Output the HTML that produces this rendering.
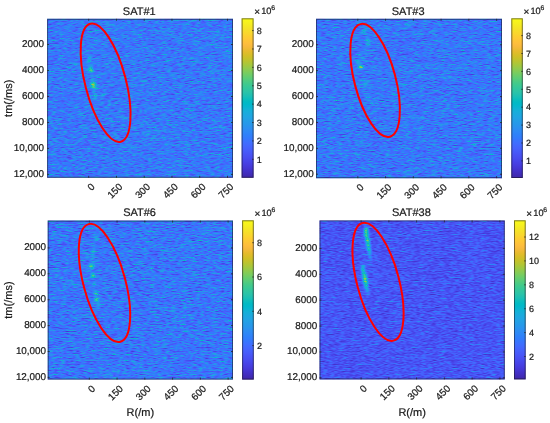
<!DOCTYPE html><html><head><meta charset="utf-8"><style>html,body{margin:0;padding:0;background:#fff;}svg{display:block;}text{font-family:'Liberation Sans', Arial, Helvetica, sans-serif;fill:#1a1a1a;stroke:#1a1a1a;stroke-width:0.22px;text-rendering:geometricPrecision;}</style></head><body>
<svg width="550" height="423" viewBox="0 0 550 423">
<defs>
<linearGradient id="par" x1="0" y1="1" x2="0" y2="0">
<stop offset="0" stop-color="rgb(62,38,168)"/>
<stop offset="0.016" stop-color="rgb(64,42,180)"/>
<stop offset="0.032" stop-color="rgb(66,46,192)"/>
<stop offset="0.048" stop-color="rgb(67,50,203)"/>
<stop offset="0.063" stop-color="rgb(69,55,213)"/>
<stop offset="0.079" stop-color="rgb(70,60,222)"/>
<stop offset="0.095" stop-color="rgb(71,65,229)"/>
<stop offset="0.111" stop-color="rgb(71,71,235)"/>
<stop offset="0.127" stop-color="rgb(72,77,240)"/>
<stop offset="0.143" stop-color="rgb(72,82,244)"/>
<stop offset="0.159" stop-color="rgb(71,88,248)"/>
<stop offset="0.175" stop-color="rgb(70,94,251)"/>
<stop offset="0.19" stop-color="rgb(69,99,253)"/>
<stop offset="0.206" stop-color="rgb(66,105,254)"/>
<stop offset="0.222" stop-color="rgb(62,111,255)"/>
<stop offset="0.238" stop-color="rgb(56,117,254)"/>
<stop offset="0.254" stop-color="rgb(50,124,252)"/>
<stop offset="0.27" stop-color="rgb(47,129,250)"/>
<stop offset="0.286" stop-color="rgb(46,135,247)"/>
<stop offset="0.302" stop-color="rgb(45,140,243)"/>
<stop offset="0.317" stop-color="rgb(43,145,239)"/>
<stop offset="0.333" stop-color="rgb(39,151,235)"/>
<stop offset="0.349" stop-color="rgb(37,155,232)"/>
<stop offset="0.365" stop-color="rgb(35,160,229)"/>
<stop offset="0.381" stop-color="rgb(32,165,227)"/>
<stop offset="0.397" stop-color="rgb(28,169,223)"/>
<stop offset="0.413" stop-color="rgb(24,173,219)"/>
<stop offset="0.429" stop-color="rgb(18,177,214)"/>
<stop offset="0.444" stop-color="rgb(8,181,208)"/>
<stop offset="0.46" stop-color="rgb(1,184,202)"/>
<stop offset="0.476" stop-color="rgb(2,186,195)"/>
<stop offset="0.492" stop-color="rgb(11,189,189)"/>
<stop offset="0.508" stop-color="rgb(25,191,182)"/>
<stop offset="0.524" stop-color="rgb(36,193,174)"/>
<stop offset="0.54" stop-color="rgb(44,196,167)"/>
<stop offset="0.556" stop-color="rgb(49,198,159)"/>
<stop offset="0.571" stop-color="rgb(55,200,151)"/>
<stop offset="0.587" stop-color="rgb(63,202,142)"/>
<stop offset="0.603" stop-color="rgb(74,203,132)"/>
<stop offset="0.619" stop-color="rgb(87,204,122)"/>
<stop offset="0.635" stop-color="rgb(100,205,111)"/>
<stop offset="0.651" stop-color="rgb(114,205,100)"/>
<stop offset="0.667" stop-color="rgb(129,204,89)"/>
<stop offset="0.683" stop-color="rgb(143,203,78)"/>
<stop offset="0.698" stop-color="rgb(157,201,67)"/>
<stop offset="0.714" stop-color="rgb(171,199,57)"/>
<stop offset="0.73" stop-color="rgb(185,196,49)"/>
<stop offset="0.746" stop-color="rgb(197,194,42)"/>
<stop offset="0.762" stop-color="rgb(209,191,39)"/>
<stop offset="0.778" stop-color="rgb(220,189,41)"/>
<stop offset="0.794" stop-color="rgb(230,187,45)"/>
<stop offset="0.81" stop-color="rgb(240,186,54)"/>
<stop offset="0.825" stop-color="rgb(248,186,61)"/>
<stop offset="0.841" stop-color="rgb(254,190,60)"/>
<stop offset="0.857" stop-color="rgb(254,195,56)"/>
<stop offset="0.873" stop-color="rgb(254,201,52)"/>
<stop offset="0.889" stop-color="rgb(252,207,48)"/>
<stop offset="0.905" stop-color="rgb(250,214,45)"/>
<stop offset="0.921" stop-color="rgb(247,220,42)"/>
<stop offset="0.937" stop-color="rgb(245,227,39)"/>
<stop offset="0.952" stop-color="rgb(245,233,36)"/>
<stop offset="0.968" stop-color="rgb(246,239,32)"/>
<stop offset="0.984" stop-color="rgb(247,245,27)"/>
<stop offset="1" stop-color="rgb(249,251,21)"/>
</linearGradient>
<filter id="f0" x="0" y="0" width="1" height="1" color-interpolation-filters="sRGB">
<feTurbulence type="fractalNoise" baseFrequency="0.45 1.3" numOctaves="2" seed="3" result="tA"/><feGaussianBlur in="tA" stdDeviation="1 0" result="t0"/>
<feColorMatrix in="t0" type="matrix" values="1 0 0 0 0 1 0 0 0 0 1 0 0 0 0 0 0 0 0 1" result="t1"/>
<feComponentTransfer in="t1" result="n"><feFuncR type="table" tableValues="0.0215 0.0223 0.0236 0.0252 0.0273 0.0297 0.0325 0.0357 0.0394 0.0434 0.0478 0.0526 0.0579 0.0635 0.0695 0.0759 0.0827 0.0899 0.0976 0.1056 0.1140 0.1228 0.1320 0.1416 0.1516 0.1620 0.1728 0.1840 0.1956 0.2076 0.2200 0.2328 0.2460 0.2596 0.2736 0.2880 0.3028 0.3179 0.3335 0.3495 0.3659 0.3827 0.3999 0.4174 0.4354 0.4538 0.4726 0.4917 0.5113 0.5313 0.5516 0.5724 0.5936 0.6151 0.6371 0.6595 0.6822 0.7054 0.7289 0.7529 0.7772 0.8020 0.8272 0.8527 0.8787"/><feFuncG type="table" tableValues="0.0215 0.0223 0.0236 0.0252 0.0273 0.0297 0.0325 0.0357 0.0394 0.0434 0.0478 0.0526 0.0579 0.0635 0.0695 0.0759 0.0827 0.0899 0.0976 0.1056 0.1140 0.1228 0.1320 0.1416 0.1516 0.1620 0.1728 0.1840 0.1956 0.2076 0.2200 0.2328 0.2460 0.2596 0.2736 0.2880 0.3028 0.3179 0.3335 0.3495 0.3659 0.3827 0.3999 0.4174 0.4354 0.4538 0.4726 0.4917 0.5113 0.5313 0.5516 0.5724 0.5936 0.6151 0.6371 0.6595 0.6822 0.7054 0.7289 0.7529 0.7772 0.8020 0.8272 0.8527 0.8787"/><feFuncB type="table" tableValues="0.0215 0.0223 0.0236 0.0252 0.0273 0.0297 0.0325 0.0357 0.0394 0.0434 0.0478 0.0526 0.0579 0.0635 0.0695 0.0759 0.0827 0.0899 0.0976 0.1056 0.1140 0.1228 0.1320 0.1416 0.1516 0.1620 0.1728 0.1840 0.1956 0.2076 0.2200 0.2328 0.2460 0.2596 0.2736 0.2880 0.3028 0.3179 0.3335 0.3495 0.3659 0.3827 0.3999 0.4174 0.4354 0.4538 0.4726 0.4917 0.5113 0.5313 0.5516 0.5724 0.5936 0.6151 0.6371 0.6595 0.6822 0.7054 0.7289 0.7529 0.7772 0.8020 0.8272 0.8527 0.8787"/></feComponentTransfer>
<feGaussianBlur in="SourceGraphic" stdDeviation="1.1 1.1" result="s"/>
<feComposite in="n" in2="s" operator="arithmetic" k1="0" k2="1" k3="1" k4="0" result="v"/>
<feComponentTransfer in="v"><feFuncR type="table" tableValues="0.2422 0.2504 0.2578 0.2647 0.2706 0.2751 0.2783 0.2803 0.2813 0.2810 0.2795 0.2760 0.2699 0.2602 0.2440 0.2206 0.1963 0.1834 0.1786 0.1764 0.1687 0.1540 0.1460 0.1380 0.1248 0.1113 0.0952 0.0689 0.0297 0.0036 0.0067 0.0433 0.0964 0.1408 0.1717 0.1938 0.2161 0.2470 0.2906 0.3406 0.3909 0.4456 0.5044 0.5616 0.6174 0.6720 0.7242 0.7738 0.8203 0.8634 0.9035 0.9393 0.9728 0.9956 0.9970 0.9952 0.9892 0.9786 0.9676 0.9610 0.9597 0.9628 0.9691 0.9769"/><feFuncG type="table" tableValues="0.1504 0.1650 0.1818 0.1978 0.2147 0.2342 0.2559 0.2782 0.3006 0.3228 0.3447 0.3667 0.3892 0.4123 0.4358 0.4603 0.4847 0.5074 0.5289 0.5499 0.5703 0.5902 0.6091 0.6276 0.6459 0.6635 0.6798 0.6948 0.7082 0.7203 0.7312 0.7411 0.7500 0.7584 0.7670 0.7758 0.7843 0.7918 0.7973 0.8008 0.8029 0.8024 0.7993 0.7942 0.7876 0.7793 0.7698 0.7598 0.7498 0.7406 0.7330 0.7288 0.7298 0.7434 0.7659 0.7893 0.8136 0.8386 0.8639 0.8890 0.9135 0.9373 0.9606 0.9839"/><feFuncB type="table" tableValues="0.6603 0.7076 0.7511 0.7952 0.8364 0.8710 0.8991 0.9221 0.9414 0.9579 0.9717 0.9829 0.9906 0.9952 0.9988 0.9973 0.9892 0.9798 0.9682 0.9520 0.9359 0.9218 0.9079 0.8973 0.8883 0.8763 0.8598 0.8394 0.8163 0.7917 0.7660 0.7394 0.7120 0.6842 0.6554 0.6251 0.5923 0.5567 0.5188 0.4789 0.4354 0.3909 0.3480 0.3045 0.2612 0.2227 0.1910 0.1646 0.1535 0.1596 0.1774 0.2100 0.2394 0.2371 0.2199 0.2028 0.1885 0.1766 0.1643 0.1537 0.1423 0.1265 0.1064 0.0805"/></feComponentTransfer>
</filter>
<filter id="f1" x="0" y="0" width="1" height="1" color-interpolation-filters="sRGB">
<feTurbulence type="fractalNoise" baseFrequency="0.45 1.3" numOctaves="2" seed="7" result="tA"/><feGaussianBlur in="tA" stdDeviation="1 0" result="t0"/>
<feColorMatrix in="t0" type="matrix" values="1 0 0 0 0 1 0 0 0 0 1 0 0 0 0 0 0 0 0 1" result="t1"/>
<feComponentTransfer in="t1" result="n"><feFuncR type="table" tableValues="0.0165 0.0173 0.0186 0.0202 0.0223 0.0247 0.0275 0.0307 0.0344 0.0384 0.0428 0.0476 0.0529 0.0585 0.0645 0.0709 0.0777 0.0849 0.0926 0.1006 0.1090 0.1178 0.1270 0.1366 0.1466 0.1570 0.1678 0.1790 0.1906 0.2026 0.2150 0.2278 0.2410 0.2546 0.2686 0.2830 0.2978 0.3129 0.3285 0.3445 0.3609 0.3777 0.3949 0.4124 0.4304 0.4488 0.4676 0.4867 0.5063 0.5263 0.5466 0.5674 0.5886 0.6101 0.6321 0.6545 0.6772 0.7004 0.7239 0.7479 0.7722 0.7970 0.8222 0.8477 0.8737"/><feFuncG type="table" tableValues="0.0165 0.0173 0.0186 0.0202 0.0223 0.0247 0.0275 0.0307 0.0344 0.0384 0.0428 0.0476 0.0529 0.0585 0.0645 0.0709 0.0777 0.0849 0.0926 0.1006 0.1090 0.1178 0.1270 0.1366 0.1466 0.1570 0.1678 0.1790 0.1906 0.2026 0.2150 0.2278 0.2410 0.2546 0.2686 0.2830 0.2978 0.3129 0.3285 0.3445 0.3609 0.3777 0.3949 0.4124 0.4304 0.4488 0.4676 0.4867 0.5063 0.5263 0.5466 0.5674 0.5886 0.6101 0.6321 0.6545 0.6772 0.7004 0.7239 0.7479 0.7722 0.7970 0.8222 0.8477 0.8737"/><feFuncB type="table" tableValues="0.0165 0.0173 0.0186 0.0202 0.0223 0.0247 0.0275 0.0307 0.0344 0.0384 0.0428 0.0476 0.0529 0.0585 0.0645 0.0709 0.0777 0.0849 0.0926 0.1006 0.1090 0.1178 0.1270 0.1366 0.1466 0.1570 0.1678 0.1790 0.1906 0.2026 0.2150 0.2278 0.2410 0.2546 0.2686 0.2830 0.2978 0.3129 0.3285 0.3445 0.3609 0.3777 0.3949 0.4124 0.4304 0.4488 0.4676 0.4867 0.5063 0.5263 0.5466 0.5674 0.5886 0.6101 0.6321 0.6545 0.6772 0.7004 0.7239 0.7479 0.7722 0.7970 0.8222 0.8477 0.8737"/></feComponentTransfer>
<feGaussianBlur in="SourceGraphic" stdDeviation="1.1 1.1" result="s"/>
<feComposite in="n" in2="s" operator="arithmetic" k1="0" k2="1" k3="1" k4="0" result="v"/>
<feComponentTransfer in="v"><feFuncR type="table" tableValues="0.2422 0.2504 0.2578 0.2647 0.2706 0.2751 0.2783 0.2803 0.2813 0.2810 0.2795 0.2760 0.2699 0.2602 0.2440 0.2206 0.1963 0.1834 0.1786 0.1764 0.1687 0.1540 0.1460 0.1380 0.1248 0.1113 0.0952 0.0689 0.0297 0.0036 0.0067 0.0433 0.0964 0.1408 0.1717 0.1938 0.2161 0.2470 0.2906 0.3406 0.3909 0.4456 0.5044 0.5616 0.6174 0.6720 0.7242 0.7738 0.8203 0.8634 0.9035 0.9393 0.9728 0.9956 0.9970 0.9952 0.9892 0.9786 0.9676 0.9610 0.9597 0.9628 0.9691 0.9769"/><feFuncG type="table" tableValues="0.1504 0.1650 0.1818 0.1978 0.2147 0.2342 0.2559 0.2782 0.3006 0.3228 0.3447 0.3667 0.3892 0.4123 0.4358 0.4603 0.4847 0.5074 0.5289 0.5499 0.5703 0.5902 0.6091 0.6276 0.6459 0.6635 0.6798 0.6948 0.7082 0.7203 0.7312 0.7411 0.7500 0.7584 0.7670 0.7758 0.7843 0.7918 0.7973 0.8008 0.8029 0.8024 0.7993 0.7942 0.7876 0.7793 0.7698 0.7598 0.7498 0.7406 0.7330 0.7288 0.7298 0.7434 0.7659 0.7893 0.8136 0.8386 0.8639 0.8890 0.9135 0.9373 0.9606 0.9839"/><feFuncB type="table" tableValues="0.6603 0.7076 0.7511 0.7952 0.8364 0.8710 0.8991 0.9221 0.9414 0.9579 0.9717 0.9829 0.9906 0.9952 0.9988 0.9973 0.9892 0.9798 0.9682 0.9520 0.9359 0.9218 0.9079 0.8973 0.8883 0.8763 0.8598 0.8394 0.8163 0.7917 0.7660 0.7394 0.7120 0.6842 0.6554 0.6251 0.5923 0.5567 0.5188 0.4789 0.4354 0.3909 0.3480 0.3045 0.2612 0.2227 0.1910 0.1646 0.1535 0.1596 0.1774 0.2100 0.2394 0.2371 0.2199 0.2028 0.1885 0.1766 0.1643 0.1537 0.1423 0.1265 0.1064 0.0805"/></feComponentTransfer>
</filter>
<filter id="f2" x="0" y="0" width="1" height="1" color-interpolation-filters="sRGB">
<feTurbulence type="fractalNoise" baseFrequency="0.45 1.3" numOctaves="2" seed="11" result="tA"/><feGaussianBlur in="tA" stdDeviation="1 0" result="t0"/>
<feColorMatrix in="t0" type="matrix" values="1 0 0 0 0 1 0 0 0 0 1 0 0 0 0 0 0 0 0 1" result="t1"/>
<feComponentTransfer in="t1" result="n"><feFuncR type="table" tableValues="0.0165 0.0173 0.0186 0.0202 0.0223 0.0247 0.0275 0.0307 0.0344 0.0384 0.0428 0.0476 0.0529 0.0585 0.0645 0.0709 0.0777 0.0849 0.0926 0.1006 0.1090 0.1178 0.1270 0.1366 0.1466 0.1570 0.1678 0.1790 0.1906 0.2026 0.2150 0.2278 0.2410 0.2546 0.2686 0.2830 0.2978 0.3129 0.3285 0.3445 0.3609 0.3777 0.3949 0.4124 0.4304 0.4488 0.4676 0.4867 0.5063 0.5263 0.5466 0.5674 0.5886 0.6101 0.6321 0.6545 0.6772 0.7004 0.7239 0.7479 0.7722 0.7970 0.8222 0.8477 0.8737"/><feFuncG type="table" tableValues="0.0165 0.0173 0.0186 0.0202 0.0223 0.0247 0.0275 0.0307 0.0344 0.0384 0.0428 0.0476 0.0529 0.0585 0.0645 0.0709 0.0777 0.0849 0.0926 0.1006 0.1090 0.1178 0.1270 0.1366 0.1466 0.1570 0.1678 0.1790 0.1906 0.2026 0.2150 0.2278 0.2410 0.2546 0.2686 0.2830 0.2978 0.3129 0.3285 0.3445 0.3609 0.3777 0.3949 0.4124 0.4304 0.4488 0.4676 0.4867 0.5063 0.5263 0.5466 0.5674 0.5886 0.6101 0.6321 0.6545 0.6772 0.7004 0.7239 0.7479 0.7722 0.7970 0.8222 0.8477 0.8737"/><feFuncB type="table" tableValues="0.0165 0.0173 0.0186 0.0202 0.0223 0.0247 0.0275 0.0307 0.0344 0.0384 0.0428 0.0476 0.0529 0.0585 0.0645 0.0709 0.0777 0.0849 0.0926 0.1006 0.1090 0.1178 0.1270 0.1366 0.1466 0.1570 0.1678 0.1790 0.1906 0.2026 0.2150 0.2278 0.2410 0.2546 0.2686 0.2830 0.2978 0.3129 0.3285 0.3445 0.3609 0.3777 0.3949 0.4124 0.4304 0.4488 0.4676 0.4867 0.5063 0.5263 0.5466 0.5674 0.5886 0.6101 0.6321 0.6545 0.6772 0.7004 0.7239 0.7479 0.7722 0.7970 0.8222 0.8477 0.8737"/></feComponentTransfer>
<feGaussianBlur in="SourceGraphic" stdDeviation="1.1 1.1" result="s"/>
<feComposite in="n" in2="s" operator="arithmetic" k1="0" k2="1" k3="1" k4="0" result="v"/>
<feComponentTransfer in="v"><feFuncR type="table" tableValues="0.2422 0.2504 0.2578 0.2647 0.2706 0.2751 0.2783 0.2803 0.2813 0.2810 0.2795 0.2760 0.2699 0.2602 0.2440 0.2206 0.1963 0.1834 0.1786 0.1764 0.1687 0.1540 0.1460 0.1380 0.1248 0.1113 0.0952 0.0689 0.0297 0.0036 0.0067 0.0433 0.0964 0.1408 0.1717 0.1938 0.2161 0.2470 0.2906 0.3406 0.3909 0.4456 0.5044 0.5616 0.6174 0.6720 0.7242 0.7738 0.8203 0.8634 0.9035 0.9393 0.9728 0.9956 0.9970 0.9952 0.9892 0.9786 0.9676 0.9610 0.9597 0.9628 0.9691 0.9769"/><feFuncG type="table" tableValues="0.1504 0.1650 0.1818 0.1978 0.2147 0.2342 0.2559 0.2782 0.3006 0.3228 0.3447 0.3667 0.3892 0.4123 0.4358 0.4603 0.4847 0.5074 0.5289 0.5499 0.5703 0.5902 0.6091 0.6276 0.6459 0.6635 0.6798 0.6948 0.7082 0.7203 0.7312 0.7411 0.7500 0.7584 0.7670 0.7758 0.7843 0.7918 0.7973 0.8008 0.8029 0.8024 0.7993 0.7942 0.7876 0.7793 0.7698 0.7598 0.7498 0.7406 0.7330 0.7288 0.7298 0.7434 0.7659 0.7893 0.8136 0.8386 0.8639 0.8890 0.9135 0.9373 0.9606 0.9839"/><feFuncB type="table" tableValues="0.6603 0.7076 0.7511 0.7952 0.8364 0.8710 0.8991 0.9221 0.9414 0.9579 0.9717 0.9829 0.9906 0.9952 0.9988 0.9973 0.9892 0.9798 0.9682 0.9520 0.9359 0.9218 0.9079 0.8973 0.8883 0.8763 0.8598 0.8394 0.8163 0.7917 0.7660 0.7394 0.7120 0.6842 0.6554 0.6251 0.5923 0.5567 0.5188 0.4789 0.4354 0.3909 0.3480 0.3045 0.2612 0.2227 0.1910 0.1646 0.1535 0.1596 0.1774 0.2100 0.2394 0.2371 0.2199 0.2028 0.1885 0.1766 0.1643 0.1537 0.1423 0.1265 0.1064 0.0805"/></feComponentTransfer>
</filter>
<filter id="f3" x="0" y="0" width="1" height="1" color-interpolation-filters="sRGB">
<feTurbulence type="fractalNoise" baseFrequency="0.45 1.3" numOctaves="2" seed="5" result="tA"/><feGaussianBlur in="tA" stdDeviation="1 0" result="t0"/>
<feColorMatrix in="t0" type="matrix" values="1 0 0 0 0 1 0 0 0 0 1 0 0 0 0 0 0 0 0 1" result="t1"/>
<feComponentTransfer in="t1" result="n"><feFuncR type="table" tableValues="0.0000 0.0000 0.0000 0.0000 0.0011 0.0028 0.0048 0.0070 0.0096 0.0124 0.0155 0.0188 0.0225 0.0264 0.0307 0.0351 0.0399 0.0450 0.0503 0.0559 0.0618 0.0680 0.0744 0.0811 0.0881 0.0954 0.1030 0.1108 0.1189 0.1273 0.1360 0.1450 0.1542 0.1637 0.1735 0.1836 0.1939 0.2046 0.2155 0.2267 0.2381 0.2499 0.2619 0.2742 0.2868 0.2997 0.3128 0.3262 0.3399 0.3539 0.3682 0.3827 0.3975 0.4126 0.4280 0.4436 0.4596 0.4758 0.4923 0.5090 0.5261 0.5434 0.5610 0.5789 0.5971"/><feFuncG type="table" tableValues="0.0000 0.0000 0.0000 0.0000 0.0011 0.0028 0.0048 0.0070 0.0096 0.0124 0.0155 0.0188 0.0225 0.0264 0.0307 0.0351 0.0399 0.0450 0.0503 0.0559 0.0618 0.0680 0.0744 0.0811 0.0881 0.0954 0.1030 0.1108 0.1189 0.1273 0.1360 0.1450 0.1542 0.1637 0.1735 0.1836 0.1939 0.2046 0.2155 0.2267 0.2381 0.2499 0.2619 0.2742 0.2868 0.2997 0.3128 0.3262 0.3399 0.3539 0.3682 0.3827 0.3975 0.4126 0.4280 0.4436 0.4596 0.4758 0.4923 0.5090 0.5261 0.5434 0.5610 0.5789 0.5971"/><feFuncB type="table" tableValues="0.0000 0.0000 0.0000 0.0000 0.0011 0.0028 0.0048 0.0070 0.0096 0.0124 0.0155 0.0188 0.0225 0.0264 0.0307 0.0351 0.0399 0.0450 0.0503 0.0559 0.0618 0.0680 0.0744 0.0811 0.0881 0.0954 0.1030 0.1108 0.1189 0.1273 0.1360 0.1450 0.1542 0.1637 0.1735 0.1836 0.1939 0.2046 0.2155 0.2267 0.2381 0.2499 0.2619 0.2742 0.2868 0.2997 0.3128 0.3262 0.3399 0.3539 0.3682 0.3827 0.3975 0.4126 0.4280 0.4436 0.4596 0.4758 0.4923 0.5090 0.5261 0.5434 0.5610 0.5789 0.5971"/></feComponentTransfer>
<feGaussianBlur in="SourceGraphic" stdDeviation="1.1 2" result="s"/>
<feComposite in="n" in2="s" operator="arithmetic" k1="0" k2="1" k3="1" k4="0" result="v"/>
<feComponentTransfer in="v"><feFuncR type="table" tableValues="0.2422 0.2504 0.2578 0.2647 0.2706 0.2751 0.2783 0.2803 0.2813 0.2810 0.2795 0.2760 0.2699 0.2602 0.2440 0.2206 0.1963 0.1834 0.1786 0.1764 0.1687 0.1540 0.1460 0.1380 0.1248 0.1113 0.0952 0.0689 0.0297 0.0036 0.0067 0.0433 0.0964 0.1408 0.1717 0.1938 0.2161 0.2470 0.2906 0.3406 0.3909 0.4456 0.5044 0.5616 0.6174 0.6720 0.7242 0.7738 0.8203 0.8634 0.9035 0.9393 0.9728 0.9956 0.9970 0.9952 0.9892 0.9786 0.9676 0.9610 0.9597 0.9628 0.9691 0.9769"/><feFuncG type="table" tableValues="0.1504 0.1650 0.1818 0.1978 0.2147 0.2342 0.2559 0.2782 0.3006 0.3228 0.3447 0.3667 0.3892 0.4123 0.4358 0.4603 0.4847 0.5074 0.5289 0.5499 0.5703 0.5902 0.6091 0.6276 0.6459 0.6635 0.6798 0.6948 0.7082 0.7203 0.7312 0.7411 0.7500 0.7584 0.7670 0.7758 0.7843 0.7918 0.7973 0.8008 0.8029 0.8024 0.7993 0.7942 0.7876 0.7793 0.7698 0.7598 0.7498 0.7406 0.7330 0.7288 0.7298 0.7434 0.7659 0.7893 0.8136 0.8386 0.8639 0.8890 0.9135 0.9373 0.9606 0.9839"/><feFuncB type="table" tableValues="0.6603 0.7076 0.7511 0.7952 0.8364 0.8710 0.8991 0.9221 0.9414 0.9579 0.9717 0.9829 0.9906 0.9952 0.9988 0.9973 0.9892 0.9798 0.9682 0.9520 0.9359 0.9218 0.9079 0.8973 0.8883 0.8763 0.8598 0.8394 0.8163 0.7917 0.7660 0.7394 0.7120 0.6842 0.6554 0.6251 0.5923 0.5567 0.5188 0.4789 0.4354 0.3909 0.3480 0.3045 0.2612 0.2227 0.1910 0.1646 0.1535 0.1596 0.1774 0.2100 0.2394 0.2371 0.2199 0.2028 0.1885 0.1766 0.1643 0.1537 0.1423 0.1265 0.1064 0.0805"/></feComponentTransfer>
</filter>
</defs>
<clipPath id="c0"><rect x="47.1" y="18.8" width="185.9" height="159"/></clipPath>
<g clip-path="url(#c0)"><g filter="url(#f0)"><rect x="46" y="17" width="188.9" height="162" fill="#000"/>
<ellipse cx="89.5" cy="58" rx="1.2" ry="4" fill="rgb(24,24,24)"/>
<ellipse cx="91" cy="68" rx="1.2" ry="4" fill="rgb(24,24,24)"/>
<ellipse cx="92.5" cy="78" rx="1.2" ry="4" fill="rgb(24,24,24)"/>
<ellipse cx="94" cy="88" rx="1.2" ry="4" fill="rgb(24,24,24)"/>
<ellipse cx="95.5" cy="98" rx="1.2" ry="4" fill="rgb(21,21,21)"/>
<ellipse cx="88.9" cy="61.2" rx="2" ry="1.5" fill="rgb(71,71,71)"/>
<ellipse cx="90.6" cy="70.1" rx="2.8" ry="2.2" fill="rgb(87,87,87)"/>
<ellipse cx="92.4" cy="81.9" rx="1.8" ry="1.4" fill="rgb(57,57,57)"/>
<ellipse cx="93.6" cy="85.4" rx="2.8" ry="2.8" fill="rgb(87,87,87)"/>
<ellipse cx="95.3" cy="96.6" rx="2" ry="1.5" fill="rgb(61,61,61)"/>
<ellipse cx="91.5" cy="76" rx="1.3" ry="1.1" fill="rgb(43,43,43)"/>
</g></g>
<ellipse cx="105.6" cy="82.7" rx="20.4" ry="60.9" transform="rotate(-14.5 105.6 82.7)" fill="none" stroke="#ff0000" stroke-width="2"/>
<rect x="47.6" y="19.3" width="184.9" height="158" fill="none" stroke="rgba(20,20,30,0.55)" stroke-width="1"/>
<path d="M88.7 177.8v-2M88.7 18.8v2" stroke="#262626" stroke-width="0.8"/>
<text x="0" y="0" font-size="9.9" text-anchor="end" dominant-baseline="text-before-edge" transform="translate(89.7 181.8) rotate(-45)">0</text>
<path d="M116.46 177.8v-2M116.46 18.8v2" stroke="#262626" stroke-width="0.8"/>
<text x="0" y="0" font-size="9.9" text-anchor="end" dominant-baseline="text-before-edge" transform="translate(117.46 181.8) rotate(-45)">150</text>
<path d="M144.22 177.8v-2M144.22 18.8v2" stroke="#262626" stroke-width="0.8"/>
<text x="0" y="0" font-size="9.9" text-anchor="end" dominant-baseline="text-before-edge" transform="translate(145.22 181.8) rotate(-45)">300</text>
<path d="M171.98 177.8v-2M171.98 18.8v2" stroke="#262626" stroke-width="0.8"/>
<text x="0" y="0" font-size="9.9" text-anchor="end" dominant-baseline="text-before-edge" transform="translate(172.98 181.8) rotate(-45)">450</text>
<path d="M199.74 177.8v-2M199.74 18.8v2" stroke="#262626" stroke-width="0.8"/>
<text x="0" y="0" font-size="9.9" text-anchor="end" dominant-baseline="text-before-edge" transform="translate(200.74 181.8) rotate(-45)">600</text>
<path d="M227.5 177.8v-2M227.5 18.8v2" stroke="#262626" stroke-width="0.8"/>
<text x="0" y="0" font-size="9.9" text-anchor="end" dominant-baseline="text-before-edge" transform="translate(228.5 181.8) rotate(-45)">750</text>
<path d="M47.1 44.5h2M233 44.5h-2" stroke="#262626" stroke-width="0.8"/>
<text x="43.9" y="47.05" font-size="9.9" text-anchor="end">2000</text>
<path d="M47.1 70.48h2M233 70.48h-2" stroke="#262626" stroke-width="0.8"/>
<text x="43.9" y="73.03" font-size="9.9" text-anchor="end">4000</text>
<path d="M47.1 96.46h2M233 96.46h-2" stroke="#262626" stroke-width="0.8"/>
<text x="43.9" y="99.01" font-size="9.9" text-anchor="end">6000</text>
<path d="M47.1 122.44h2M233 122.44h-2" stroke="#262626" stroke-width="0.8"/>
<text x="43.9" y="124.99" font-size="9.9" text-anchor="end">8000</text>
<path d="M47.1 148.42h2M233 148.42h-2" stroke="#262626" stroke-width="0.8"/>
<text x="43.9" y="150.97" font-size="9.9" text-anchor="end">10,000</text>
<path d="M47.1 174.4h2M233 174.4h-2" stroke="#262626" stroke-width="0.8"/>
<text x="43.9" y="176.95" font-size="9.9" text-anchor="end">12,000</text>
<text x="139.25" y="14.5" font-size="11" text-anchor="middle">SAT#1</text>
<text x="0" y="0" font-size="11" text-anchor="middle" transform="translate(12.3 98.3) rotate(-90)">tm(/ms)</text>
<rect x="241.6" y="18.3" width="12" height="159.5" fill="url(#par)"/>
<rect x="242.1" y="18.8" width="11" height="158.5" fill="none" stroke="rgba(20,20,30,0.55)" stroke-width="1"/>
<path d="M253.6 159.31h-1.5" stroke="#262626" stroke-width="0.8"/>
<text x="256.8" y="162.51" font-size="9">1</text>
<path d="M253.6 140.92h-1.5" stroke="#262626" stroke-width="0.8"/>
<text x="256.8" y="144.12" font-size="9">2</text>
<path d="M253.6 122.53h-1.5" stroke="#262626" stroke-width="0.8"/>
<text x="256.8" y="125.73" font-size="9">3</text>
<path d="M253.6 104.14h-1.5" stroke="#262626" stroke-width="0.8"/>
<text x="256.8" y="107.34" font-size="9">4</text>
<path d="M253.6 85.75h-1.5" stroke="#262626" stroke-width="0.8"/>
<text x="256.8" y="88.95" font-size="9">5</text>
<path d="M253.6 67.36h-1.5" stroke="#262626" stroke-width="0.8"/>
<text x="256.8" y="70.56" font-size="9">6</text>
<path d="M253.6 48.97h-1.5" stroke="#262626" stroke-width="0.8"/>
<text x="256.8" y="52.17" font-size="9">7</text>
<path d="M253.6 30.58h-1.5" stroke="#262626" stroke-width="0.8"/>
<text x="256.8" y="33.78" font-size="9">8</text>
<text x="254.2" y="15.3" font-size="10">×</text>
<text x="261.2" y="14" font-size="9.2">10</text>
<text x="271.2" y="9.7" font-size="6.8">6</text>
<clipPath id="c1"><rect x="316" y="18.8" width="186" height="159.4"/></clipPath>
<g clip-path="url(#c1)"><g filter="url(#f1)"><rect x="315" y="17" width="189" height="162.4" fill="#000"/>
<ellipse cx="364.5" cy="30" rx="1.2" ry="4" fill="rgb(24,24,24)"/>
<ellipse cx="367" cy="40" rx="1.2" ry="4" fill="rgb(24,24,24)"/>
<ellipse cx="362" cy="55" rx="1.2" ry="5" fill="rgb(18,18,18)"/>
<ellipse cx="360" cy="65" rx="1.2" ry="4" fill="rgb(24,24,24)"/>
<ellipse cx="365" cy="85" rx="1.2" ry="5" fill="rgb(18,18,18)"/>
<ellipse cx="368" cy="97" rx="1.2" ry="5" fill="rgb(18,18,18)"/>
<ellipse cx="364.5" cy="31.5" rx="2" ry="1.5" fill="rgb(57,57,57)"/>
<ellipse cx="368" cy="40.5" rx="2.2" ry="1.6" fill="rgb(64,64,64)"/>
<ellipse cx="367.7" cy="44" rx="2" ry="1.5" fill="rgb(57,57,57)"/>
<ellipse cx="360.6" cy="66.9" rx="2.6" ry="2" fill="rgb(107,107,107)"/>
<ellipse cx="357.7" cy="62.1" rx="2" ry="1.5" fill="rgb(61,61,61)"/>
<ellipse cx="365.3" cy="84.8" rx="1.8" ry="1.3" fill="rgb(43,43,43)"/>
<ellipse cx="367.7" cy="97.2" rx="1.8" ry="1.3" fill="rgb(43,43,43)"/>
<ellipse cx="371.8" cy="103" rx="1.8" ry="1.3" fill="rgb(43,43,43)"/>
</g></g>
<ellipse cx="375.1" cy="80.4" rx="20.6" ry="58.2" transform="rotate(-14.7 375.1 80.4)" fill="none" stroke="#ff0000" stroke-width="2"/>
<rect x="316.5" y="19.3" width="185" height="158.4" fill="none" stroke="rgba(20,20,30,0.55)" stroke-width="1"/>
<path d="M357.8 178.2v-2M357.8 18.8v2" stroke="#262626" stroke-width="0.8"/>
<text x="0" y="0" font-size="9.9" text-anchor="end" dominant-baseline="text-before-edge" transform="translate(358.8 182.2) rotate(-45)">0</text>
<path d="M385.56 178.2v-2M385.56 18.8v2" stroke="#262626" stroke-width="0.8"/>
<text x="0" y="0" font-size="9.9" text-anchor="end" dominant-baseline="text-before-edge" transform="translate(386.56 182.2) rotate(-45)">150</text>
<path d="M413.32 178.2v-2M413.32 18.8v2" stroke="#262626" stroke-width="0.8"/>
<text x="0" y="0" font-size="9.9" text-anchor="end" dominant-baseline="text-before-edge" transform="translate(414.32 182.2) rotate(-45)">300</text>
<path d="M441.08 178.2v-2M441.08 18.8v2" stroke="#262626" stroke-width="0.8"/>
<text x="0" y="0" font-size="9.9" text-anchor="end" dominant-baseline="text-before-edge" transform="translate(442.08 182.2) rotate(-45)">450</text>
<path d="M468.84 178.2v-2M468.84 18.8v2" stroke="#262626" stroke-width="0.8"/>
<text x="0" y="0" font-size="9.9" text-anchor="end" dominant-baseline="text-before-edge" transform="translate(469.84 182.2) rotate(-45)">600</text>
<path d="M496.6 178.2v-2M496.6 18.8v2" stroke="#262626" stroke-width="0.8"/>
<text x="0" y="0" font-size="9.9" text-anchor="end" dominant-baseline="text-before-edge" transform="translate(497.6 182.2) rotate(-45)">750</text>
<path d="M316 44.8h2M502 44.8h-2" stroke="#262626" stroke-width="0.8"/>
<text x="313.8" y="47.35" font-size="9.9" text-anchor="end">2000</text>
<path d="M316 70.68h2M502 70.68h-2" stroke="#262626" stroke-width="0.8"/>
<text x="313.8" y="73.23" font-size="9.9" text-anchor="end">4000</text>
<path d="M316 96.56h2M502 96.56h-2" stroke="#262626" stroke-width="0.8"/>
<text x="313.8" y="99.11" font-size="9.9" text-anchor="end">6000</text>
<path d="M316 122.44h2M502 122.44h-2" stroke="#262626" stroke-width="0.8"/>
<text x="313.8" y="124.99" font-size="9.9" text-anchor="end">8000</text>
<path d="M316 148.32h2M502 148.32h-2" stroke="#262626" stroke-width="0.8"/>
<text x="313.8" y="150.87" font-size="9.9" text-anchor="end">10,000</text>
<path d="M316 174.2h2M502 174.2h-2" stroke="#262626" stroke-width="0.8"/>
<text x="313.8" y="176.75" font-size="9.9" text-anchor="end">12,000</text>
<text x="408.2" y="14.5" font-size="11" text-anchor="middle">SAT#3</text>
<rect x="511.3" y="18.3" width="11.5" height="159.7" fill="url(#par)"/>
<rect x="511.8" y="18.8" width="10.5" height="158.7" fill="none" stroke="rgba(20,20,30,0.55)" stroke-width="1"/>
<path d="M522.8 160.9h-1.5" stroke="#262626" stroke-width="0.8"/>
<text x="526" y="164.1" font-size="9">1</text>
<path d="M522.8 143h-1.5" stroke="#262626" stroke-width="0.8"/>
<text x="526" y="146.2" font-size="9">2</text>
<path d="M522.8 125.1h-1.5" stroke="#262626" stroke-width="0.8"/>
<text x="526" y="128.3" font-size="9">3</text>
<path d="M522.8 107.2h-1.5" stroke="#262626" stroke-width="0.8"/>
<text x="526" y="110.4" font-size="9">4</text>
<path d="M522.8 89.3h-1.5" stroke="#262626" stroke-width="0.8"/>
<text x="526" y="92.5" font-size="9">5</text>
<path d="M522.8 71.4h-1.5" stroke="#262626" stroke-width="0.8"/>
<text x="526" y="74.6" font-size="9">6</text>
<path d="M522.8 53.5h-1.5" stroke="#262626" stroke-width="0.8"/>
<text x="526" y="56.7" font-size="9">7</text>
<path d="M522.8 35.6h-1.5" stroke="#262626" stroke-width="0.8"/>
<text x="526" y="38.8" font-size="9">8</text>
<text x="523.4" y="15.3" font-size="10">×</text>
<text x="530.4" y="14" font-size="9.2">10</text>
<text x="540.4" y="9.7" font-size="6.8">6</text>
<clipPath id="c2"><rect x="47.7" y="220.6" width="185.3" height="159"/></clipPath>
<g clip-path="url(#c2)"><g filter="url(#f2)"><rect x="46" y="219" width="188.3" height="162" fill="#000"/>
<ellipse cx="95.5" cy="236" rx="1.2" ry="4" fill="rgb(24,24,24)"/>
<ellipse cx="94" cy="246" rx="1.2" ry="4" fill="rgb(24,24,24)"/>
<ellipse cx="92.5" cy="256" rx="1.2" ry="4" fill="rgb(28,28,28)"/>
<ellipse cx="91.5" cy="266" rx="1.2" ry="4" fill="rgb(31,31,31)"/>
<ellipse cx="92.5" cy="276" rx="1.2" ry="4" fill="rgb(31,31,31)"/>
<ellipse cx="94.5" cy="286" rx="1.2" ry="4" fill="rgb(28,28,28)"/>
<ellipse cx="96" cy="296" rx="1.2" ry="4" fill="rgb(28,28,28)"/>
<ellipse cx="97.5" cy="306" rx="1.2" ry="4" fill="rgb(24,24,24)"/>
<ellipse cx="96.2" cy="239.2" rx="2" ry="1.5" fill="rgb(71,71,71)"/>
<ellipse cx="93.8" cy="250" rx="1.3" ry="3.3" fill="rgb(37,37,37)"/>
<ellipse cx="91.4" cy="266.4" rx="2.6" ry="1.8" fill="rgb(114,114,114)"/>
<ellipse cx="93.2" cy="275.2" rx="2.6" ry="1.8" fill="rgb(107,107,107)"/>
<ellipse cx="95.6" cy="292.7" rx="2" ry="1.5" fill="rgb(71,71,71)"/>
<ellipse cx="96.2" cy="299.8" rx="2.4" ry="1.8" fill="rgb(93,93,93)"/>
<ellipse cx="97.9" cy="304.5" rx="2" ry="1.5" fill="rgb(71,71,71)"/>
</g></g>
<ellipse cx="104.5" cy="282.9" rx="20.95" ry="60.9" transform="rotate(-15.1 104.5 282.9)" fill="none" stroke="#ff0000" stroke-width="2"/>
<rect x="48.2" y="221.1" width="184.3" height="158" fill="none" stroke="rgba(20,20,30,0.55)" stroke-width="1"/>
<path d="M89.3 379.6v-2M89.3 220.6v2" stroke="#262626" stroke-width="0.8"/>
<text x="0" y="0" font-size="9.9" text-anchor="end" dominant-baseline="text-before-edge" transform="translate(90.3 383.6) rotate(-45)">0</text>
<path d="M117.06 379.6v-2M117.06 220.6v2" stroke="#262626" stroke-width="0.8"/>
<text x="0" y="0" font-size="9.9" text-anchor="end" dominant-baseline="text-before-edge" transform="translate(118.06 383.6) rotate(-45)">150</text>
<path d="M144.82 379.6v-2M144.82 220.6v2" stroke="#262626" stroke-width="0.8"/>
<text x="0" y="0" font-size="9.9" text-anchor="end" dominant-baseline="text-before-edge" transform="translate(145.82 383.6) rotate(-45)">300</text>
<path d="M172.58 379.6v-2M172.58 220.6v2" stroke="#262626" stroke-width="0.8"/>
<text x="0" y="0" font-size="9.9" text-anchor="end" dominant-baseline="text-before-edge" transform="translate(173.58 383.6) rotate(-45)">450</text>
<path d="M200.34 379.6v-2M200.34 220.6v2" stroke="#262626" stroke-width="0.8"/>
<text x="0" y="0" font-size="9.9" text-anchor="end" dominant-baseline="text-before-edge" transform="translate(201.34 383.6) rotate(-45)">600</text>
<path d="M228.1 379.6v-2M228.1 220.6v2" stroke="#262626" stroke-width="0.8"/>
<text x="0" y="0" font-size="9.9" text-anchor="end" dominant-baseline="text-before-edge" transform="translate(229.1 383.6) rotate(-45)">750</text>
<path d="M47.7 247.9h2M233 247.9h-2" stroke="#262626" stroke-width="0.8"/>
<text x="46.1" y="250.45" font-size="9.9" text-anchor="end">2000</text>
<path d="M47.7 273.8h2M233 273.8h-2" stroke="#262626" stroke-width="0.8"/>
<text x="46.1" y="276.35" font-size="9.9" text-anchor="end">4000</text>
<path d="M47.7 299.7h2M233 299.7h-2" stroke="#262626" stroke-width="0.8"/>
<text x="46.1" y="302.25" font-size="9.9" text-anchor="end">6000</text>
<path d="M47.7 325.6h2M233 325.6h-2" stroke="#262626" stroke-width="0.8"/>
<text x="46.1" y="328.15" font-size="9.9" text-anchor="end">8000</text>
<path d="M47.7 351.5h2M233 351.5h-2" stroke="#262626" stroke-width="0.8"/>
<text x="46.1" y="354.05" font-size="9.9" text-anchor="end">10,000</text>
<path d="M47.7 377.4h2M233 377.4h-2" stroke="#262626" stroke-width="0.8"/>
<text x="46.1" y="379.95" font-size="9.9" text-anchor="end">12,000</text>
<text x="139.55" y="216.3" font-size="11" text-anchor="middle">SAT#6</text>
<text x="0" y="0" font-size="11" text-anchor="middle" transform="translate(12.3 300.1) rotate(-90)">tm(/ms)</text>
<text x="140.35" y="415.5" font-size="11" text-anchor="middle">R(/m)</text>
<rect x="242.1" y="220.3" width="11.7" height="159.3" fill="url(#par)"/>
<rect x="242.6" y="220.8" width="10.7" height="158.3" fill="none" stroke="rgba(20,20,30,0.55)" stroke-width="1"/>
<path d="M253.8 345.6h-1.5" stroke="#262626" stroke-width="0.8"/>
<text x="257" y="348.8" font-size="9">2</text>
<path d="M253.8 311.3h-1.5" stroke="#262626" stroke-width="0.8"/>
<text x="257" y="314.5" font-size="9">4</text>
<path d="M253.8 277h-1.5" stroke="#262626" stroke-width="0.8"/>
<text x="257" y="280.2" font-size="9">6</text>
<path d="M253.8 242.7h-1.5" stroke="#262626" stroke-width="0.8"/>
<text x="257" y="245.9" font-size="9">8</text>
<text x="254.4" y="217.3" font-size="10">×</text>
<text x="261.4" y="216" font-size="9.2">10</text>
<text x="271.4" y="211.7" font-size="6.8">6</text>
<clipPath id="c3"><rect x="319.5" y="220.4" width="185.3" height="159"/></clipPath>
<g clip-path="url(#c3)"><g filter="url(#f3)"><rect x="318" y="219" width="188.3" height="162" fill="#000"/>
<ellipse cx="366" cy="231" rx="2" ry="3.5" fill="rgb(133,133,133)"/>
<ellipse cx="366.8" cy="236.5" rx="2" ry="3" fill="rgb(122,122,122)"/>
<ellipse cx="367.8" cy="242.5" rx="2" ry="3.5" fill="rgb(128,128,128)"/>
<ellipse cx="369" cy="249" rx="1.8" ry="3.5" fill="rgb(97,97,97)"/>
<ellipse cx="370" cy="255" rx="1.6" ry="3" fill="rgb(64,64,64)"/>
<ellipse cx="371" cy="261" rx="1.4" ry="3" fill="rgb(38,38,38)"/>
<ellipse cx="362.8" cy="268" rx="1.8" ry="3" fill="rgb(102,102,102)"/>
<ellipse cx="364" cy="274" rx="2" ry="3" fill="rgb(122,122,122)"/>
<ellipse cx="365.3" cy="280" rx="2.1" ry="3.5" fill="rgb(148,148,148)"/>
<ellipse cx="366.5" cy="286.5" rx="1.8" ry="3" fill="rgb(102,102,102)"/>
<ellipse cx="367.5" cy="292.5" rx="1.5" ry="2.5" fill="rgb(51,51,51)"/>
</g></g>
<ellipse cx="378.05" cy="281.85" rx="21" ry="60.8" transform="rotate(-14.8 378.05 281.85)" fill="none" stroke="#ff0000" stroke-width="2"/>
<rect x="320" y="220.9" width="184.3" height="158" fill="none" stroke="rgba(20,20,30,0.55)" stroke-width="1"/>
<path d="M361.1 379.4v-2M361.1 220.4v2" stroke="#262626" stroke-width="0.8"/>
<text x="0" y="0" font-size="9.9" text-anchor="end" dominant-baseline="text-before-edge" transform="translate(362.1 383.4) rotate(-45)">0</text>
<path d="M388.86 379.4v-2M388.86 220.4v2" stroke="#262626" stroke-width="0.8"/>
<text x="0" y="0" font-size="9.9" text-anchor="end" dominant-baseline="text-before-edge" transform="translate(389.86 383.4) rotate(-45)">150</text>
<path d="M416.62 379.4v-2M416.62 220.4v2" stroke="#262626" stroke-width="0.8"/>
<text x="0" y="0" font-size="9.9" text-anchor="end" dominant-baseline="text-before-edge" transform="translate(417.62 383.4) rotate(-45)">300</text>
<path d="M444.38 379.4v-2M444.38 220.4v2" stroke="#262626" stroke-width="0.8"/>
<text x="0" y="0" font-size="9.9" text-anchor="end" dominant-baseline="text-before-edge" transform="translate(445.38 383.4) rotate(-45)">450</text>
<path d="M472.14 379.4v-2M472.14 220.4v2" stroke="#262626" stroke-width="0.8"/>
<text x="0" y="0" font-size="9.9" text-anchor="end" dominant-baseline="text-before-edge" transform="translate(473.14 383.4) rotate(-45)">600</text>
<path d="M499.9 379.4v-2M499.9 220.4v2" stroke="#262626" stroke-width="0.8"/>
<text x="0" y="0" font-size="9.9" text-anchor="end" dominant-baseline="text-before-edge" transform="translate(500.9 383.4) rotate(-45)">750</text>
<path d="M319.5 248.4h2M504.8 248.4h-2" stroke="#262626" stroke-width="0.8"/>
<text x="317.3" y="250.95" font-size="9.9" text-anchor="end">2000</text>
<path d="M319.5 274.28h2M504.8 274.28h-2" stroke="#262626" stroke-width="0.8"/>
<text x="317.3" y="276.83" font-size="9.9" text-anchor="end">4000</text>
<path d="M319.5 300.16h2M504.8 300.16h-2" stroke="#262626" stroke-width="0.8"/>
<text x="317.3" y="302.71" font-size="9.9" text-anchor="end">6000</text>
<path d="M319.5 326.04h2M504.8 326.04h-2" stroke="#262626" stroke-width="0.8"/>
<text x="317.3" y="328.59" font-size="9.9" text-anchor="end">8000</text>
<path d="M319.5 351.92h2M504.8 351.92h-2" stroke="#262626" stroke-width="0.8"/>
<text x="317.3" y="354.47" font-size="9.9" text-anchor="end">10,000</text>
<path d="M319.5 377.8h2M504.8 377.8h-2" stroke="#262626" stroke-width="0.8"/>
<text x="317.3" y="380.35" font-size="9.9" text-anchor="end">12,000</text>
<text x="411.35" y="216.1" font-size="11" text-anchor="middle">SAT#38</text>
<text x="412.15" y="415.5" font-size="11" text-anchor="middle">R(/m)</text>
<rect x="514" y="220.3" width="11.7" height="159.1" fill="url(#par)"/>
<rect x="514.5" y="220.8" width="10.7" height="158.1" fill="none" stroke="rgba(20,20,30,0.55)" stroke-width="1"/>
<path d="M525.7 356.5h-1.5" stroke="#262626" stroke-width="0.8"/>
<text x="528.9" y="359.7" font-size="9">2</text>
<path d="M525.7 332.6h-1.5" stroke="#262626" stroke-width="0.8"/>
<text x="528.9" y="335.8" font-size="9">4</text>
<path d="M525.7 308.7h-1.5" stroke="#262626" stroke-width="0.8"/>
<text x="528.9" y="311.9" font-size="9">6</text>
<path d="M525.7 284.8h-1.5" stroke="#262626" stroke-width="0.8"/>
<text x="528.9" y="288" font-size="9">8</text>
<path d="M525.7 260.9h-1.5" stroke="#262626" stroke-width="0.8"/>
<text x="528.9" y="264.1" font-size="9">10</text>
<path d="M525.7 237h-1.5" stroke="#262626" stroke-width="0.8"/>
<text x="528.9" y="240.2" font-size="9">12</text>
<text x="526.3" y="217.3" font-size="10">×</text>
<text x="533.3" y="216" font-size="9.2">10</text>
<text x="543.3" y="211.7" font-size="6.8">6</text>
</svg></body></html>
